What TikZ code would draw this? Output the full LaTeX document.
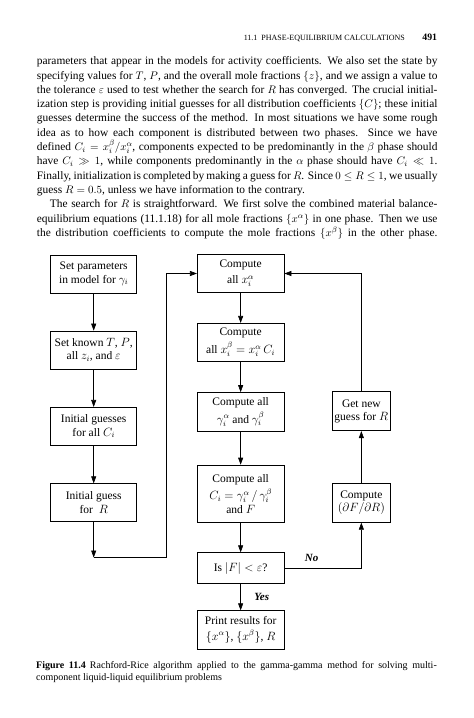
\documentclass[tikz,border=0pt]{standalone}
\usepackage{fontspec}
\setmainfont{Liberation Serif}
\usetikzlibrary{arrows.meta,calc}
\begin{document}
\begin{tikzpicture}[x=1pt,y=-1pt,
  box/.style={draw, line width=0.7pt, align=center, inner sep=1pt,
    font=\fontsize{11.5}{13.3}\selectfont},
  lbox/.style={box, minimum width=86pt, minimum height=38pt},
  rbox/.style={box, minimum width=86.7pt, minimum height=38.4pt},
  sbox/.style={box, minimum width=57.3pt, minimum height=39pt},
  arr/.style={-{Triangle[length=7pt,width=5pt]}, line width=0.6pt},
  ln/.style={line width=0.6pt},
  lab/.style={font=\fontsize{11}{13}\selectfont\bfseries\itshape, inner sep=0pt},
  bodytext/.style={anchor=north west, inner sep=0pt, text width=400.6pt, align=justify,
    font=\fontsize{11.4}{14.3}\selectfont},
  captext/.style={anchor=north west, inner sep=0pt, text width=400.6pt, align=justify,
    font=\fontsize{10}{12.6}\selectfont}]
\useasboundingbox (0,0) rectangle (474,718);

% running head
\node[anchor=base east, inner sep=0pt, font=\fontsize{8}{9}\selectfont] (head) at (405,40.5) {11.1\hspace{4pt}PHASE-EQUILIBRIUM CALCULATIONS};
\node[anchor=base east, inner sep=0pt, font=\fontsize{9.8}{11}\selectfont\bfseries] (page) at (437.3,40.5) {491};

% body text
\node[bodytext] (body) at (36.7,54.5) {\strut parameters that appear in the models for activity coefficients. We also set the state by\linebreak
specifying values for $T$, $P$, and the overall mole fractions $\{z\}$, and we assign a value to\linebreak
the tolerance $\varepsilon$ used to test whether the search for $R$ has converged. The crucial initial-\linebreak
ization step is providing initial guesses for all distribution coefficients $\{C\}$; these initial\linebreak
guesses determine the success of the method. In most situations we have some rough\linebreak
idea as to how each component is distributed between two phases. Since we have\linebreak
defined $C_i = x_i^{\beta}/x_i^{\alpha}$, components expected to be predominantly in the $\beta$ phase should\linebreak
have $C_i \gg 1$, while components predominantly in the $\alpha$ phase should have $C_i \ll 1$.\linebreak
Finally, initialization is completed by making a guess for $R$. Since $0 \le R \le 1$, we usually\linebreak
guess $R = 0.5$, unless we have information to the contrary.\par
\parfillskip=0pt
\hspace*{13pt}The search for $R$ is straightforward. We first solve the combined material balance-\linebreak
equilibrium equations (11.1.18) for all mole fractions $\{x^{\alpha}\}$ in one phase. Then we use\linebreak
the distribution coefficients to compute the mole fractions $\{x^{\beta}\}$ in the other phase.\par};

% left column
\node[lbox] (L1) at (93.7,273.9) {Set parameters\\in model for $\gamma_i$};
\node[lbox] (L2) at (93.7,350.0) {Set known $T$, $P$,\\all $z_i$, and $\varepsilon$};
\node[lbox] (L3) at (93.7,426.3) {Initial guesses\\for all $C_i$};
\node[lbox] (L4) at (93.7,502.7) {Initial guess\\for\ \ $R$};

% middle column
\node[rbox] (R1) at (240.65,273.5) {Compute\\[3pt]all $x_i^{\alpha}$};
\node[rbox] (R2) at (240.65,342.5) {Compute\\[3pt]all $x_i^{\beta} = x_i^{\alpha}\,C_i$};
\node[rbox] (R3) at (240.65,411.7) {Compute all\\[3pt]$\gamma_i^{\alpha}$\ and $\gamma_i^{\beta}$};
\node[rbox, minimum height=57.3pt] (R4) at (240.65,493.7) {Compute all\\[3pt]$C_i = \gamma_i^{\alpha}\,/\,\gamma_i^{\beta}$\\and $F$};
\node[rbox, minimum height=30.6pt] (R5) at (240.65,568.0) {Is $|F| < \varepsilon$?};
\node[rbox, minimum height=38.6pt] (R6) at (240.65,630.0) {Print results for\\[2pt]$\{x^{\alpha}\}$, $\{x^{\beta}\}$, $R$};

% right column
\node[sbox] (G) at (361.35,411.2) {Get new\\guess for $R$};
\node[sbox] (D) at (361.35,502.8) {Compute\\$(\partial F/\partial R)$};

% connectors
\coordinate (j1) at (93.7,557.5);
\coordinate (j2) at (166.7,557.5);
\draw[arr] (L1) -- (L2);
\draw[arr] (L2) -- (L3);
\draw[arr] (L3) -- (L4);
\draw[arr] (L4) -- (j1);
\draw[ln] (j1) -- (j2);
\draw[arr] (j2) |- (R1.west);
\draw[arr] (R1) -- (R2);
\draw[arr] (R2) -- (R3);
\draw[arr] (R3) -- (R4);
\draw[arr] (R4) -- (R5);
\draw[arr] (R5) -- (R6);
\draw[arr] (R5.east) -| (D.south);
\draw[arr] (D) -- (G);
\draw[arr] (G.north) |- (R1.east);
\node[lab] (no) at (311.7,558) {No};
\node[lab] (yes) at (261.7,597) {Yes};

% caption
\node[captext] (cap) at (36,659) {\strut\textbf{Figure 11.4}\hspace{4pt}Rachford-Rice algorithm applied to the gamma-gamma method for solving multi-\linebreak
component liquid-liquid equilibrium problems};
\end{tikzpicture}
\end{document}
